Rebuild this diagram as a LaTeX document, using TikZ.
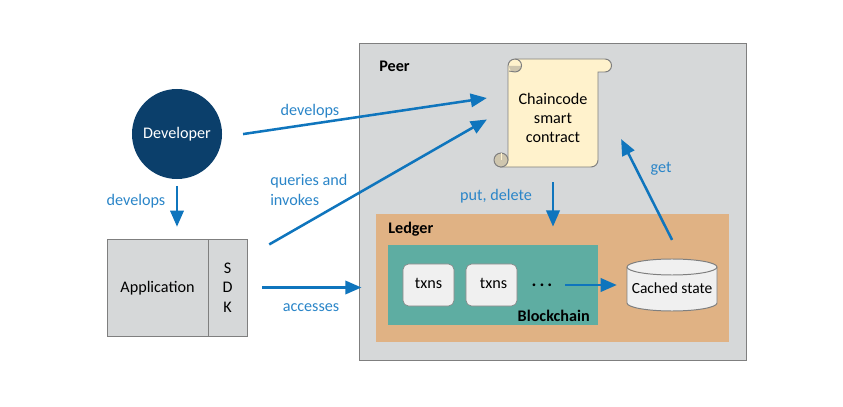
\documentclass[tikz,border=0pt]{standalone}
\usepackage{fontspec}
\setmainfont{Carlito}
\usepackage{xcolor}
\usetikzlibrary{arrows.meta}

\definecolor{peergray}{HTML}{D6D8D9}
\definecolor{edgegray}{HTML}{7F7F7F}
\definecolor{ledgertan}{HTML}{E0B284}
\definecolor{chainteal}{HTML}{5EADA2}
\definecolor{devblue}{HTML}{0B3F6B}
\definecolor{flowblue}{HTML}{0F75BD}
\definecolor{labelblue}{HTML}{2A85C8}
\definecolor{scrollyellow}{HTML}{FFF2CC}
\definecolor{curltan}{HTML}{CFC6AE}

\tikzset{
	flow/.style={flowblue,line width=1.8pt,-{Triangle[length=11.5pt,width=9.5pt]}},
	flowlabel/.style={labelblue,font=\fontsize{11.5}{13.8}\selectfont,align=left,inner sep=0pt},
	plainlabel/.style={font=\fontsize{11.5}{13.8}\selectfont,align=center,inner sep=0pt},
	headlabel/.style={font=\fontsize{11.5}{13.8}\selectfont\bfseries,inner sep=0pt},
	txnbox/.style={draw=edgegray,fill=gray!12,rounded corners=4pt,minimum width=1.275cm,minimum height=1.05cm,inner sep=0pt,font=\fontsize{11.5}{13.8}\selectfont},
	scrollpart/.style={draw=edgegray,fill=scrollyellow,line width=.7pt},
	curlpart/.style={draw=edgegray,fill=curltan,line width=.7pt},
	cachepart/.style={draw=edgegray,fill=gray!12,line width=.7pt}
}

\begin{document}
\begin{tikzpicture}[x=0.025cm,y=-0.025cm]
\useasboundingbox (0,0) rectangle (843,407);

\node[draw=edgegray,fill=peergray,minimum width=9.675cm,minimum height=7.925cm,inner sep=0pt] (peer) at (552.5,201.5) {};	% Peer Kasten
\node[headlabel,anchor=west] (peerlabel) at (379,66) {Peer};

\node[fill=ledgertan,minimum width=8.825cm,minimum height=3.2cm,inner sep=0pt] (ledger) at (552.5,278) {};	% Ledger
\node[headlabel,anchor=west] (ledgerlabel) at (388,229) {Ledger};
\node[fill=chainteal,minimum width=5.25cm,minimum height=2cm,inner sep=0pt] (blockchain) at (493,285) {};	% Blockchain
\node[headlabel,anchor=east] (blockchainlabel) at (590,316) {Blockchain};

\node[txnbox] (txnsa) at (428.5,285) {\raisebox{3pt}{txns}};
\node[txnbox] (txnsb) at (491.5,285) {\raisebox{3pt}{\hspace{3pt}txns}};
\node[inner sep=0pt,font=\fontsize{13}{13}\selectfont\bfseries] (dots) at (542,285) {.\,.\,.};

% Cache Zylinder
\draw[cachepart] (627,267) arc[x radius=45,y radius=8,start angle=180,end angle=360] -- (717,303) arc[x radius=45,y radius=8,start angle=0,end angle=180] -- cycle;
\draw[edgegray,line width=.7pt] (627,267) arc[x radius=45,y radius=8,start angle=180,end angle=0];
\node[minimum width=2.25cm,minimum height=1.3cm,inner sep=0pt,font=\fontsize{11}{13}\selectfont] (cached) at (672,285) {\raisebox{-6pt}[0pt][0pt]{Cached state}};

% Schriftrolle
\draw[scrollpart] (515,59) -- (605,59) arc[start angle=-90,end angle=90,radius=6.5] -- (598,72) -- (598,160) -- (598,160) arc[start angle=0,end angle=90,radius=7] -- (501,167) -- (508,160) -- (508,66) arc[start angle=180,end angle=270,radius=7] -- cycle;
\draw[curlpart] (501,160) circle[radius=7];
\draw[scrollyellow,line width=.7pt] (501,160) -- (501,153);
\fill[curltan] (521,66) arc[start angle=0,end angle=180,radius=6] -- cycle;
\draw[edgegray,line width=.7pt] (515,59) arc[start angle=-90,end angle=90,radius=6.5] -- (509,71);
\node[plainlabel,minimum width=2.25cm,minimum height=2.45cm] (chaincode) at (553,118) {Chaincode\\smart\\contract};

\node[circle,fill=devblue,text=white,minimum size=2.25cm,inner sep=0pt,font=\fontsize{11.5}{13.8}\selectfont] (developer) at (177,134) {\raisebox{-3.5pt}[0pt][0pt]{Developer}};

\node[draw=edgegray,fill=peergray,minimum width=2.525cm,minimum height=2.425cm,inner sep=0pt,plainlabel] (application) at (157.5,287.5) {\raisebox{-3.9pt}[0pt][0pt]{Application}};	% Application
\node[draw=edgegray,fill=peergray,minimum width=0.975cm,minimum height=2.425cm,inner sep=0pt,plainlabel] (sdk) at (227.5,287.5) {S\\D\\K};	% SDK

\draw[flow,shorten <=15pt,shorten >=15pt] (developer.-4) -- (chaincode.153.7);	% develops oben
\draw[flow,shorten <=18pt,shorten >=17pt] (sdk.57) -- (chaincode.167);	% queries
\draw[flow,shorten <=4.6pt,shorten >=8.5pt] (developer.south) -- (developer.south |- application.north);	% develops unten
\draw[flow,shorten <=10.6pt,shorten >=-2pt] (sdk.east) -- (peer.west |- sdk.east);	% accesses
\draw[flow,shorten <=10.6pt,shorten >=-9.2pt] (chaincode.south) -- (chaincode.south |- ledger.north);	% put, delete
\draw[flow,shorten <=15pt,shorten >=36pt] (cached.70) -- (chaincode.28);	% get
\draw[flow,shorten <=9pt,shorten >=7pt] (dots.east) -- (cached.west |- dots.east);	% Blockchain zu Cache

\node[flowlabel] (developsa) at (310,111) {develops};
\node[flowlabel,anchor=west] (queries) at (270,190) {queries and\\invokes};
\node[flowlabel] (developsb) at (136,201) {develops};
\node[flowlabel] (accesses) at (311,308) {accesses};
\node[flowlabel] (putdelete) at (496,196) {put, delete};
\node[flowlabel] (get) at (661,169) {get};

\end{tikzpicture}
\end{document}
